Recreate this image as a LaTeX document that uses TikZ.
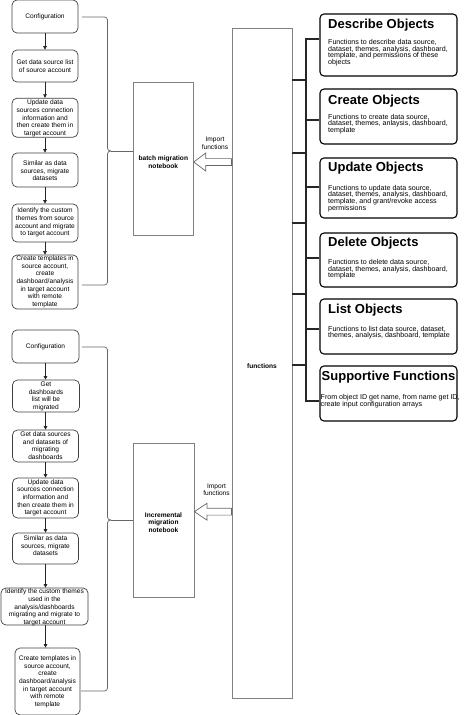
\documentclass[tikz,border=0pt]{standalone}
\usepackage{fontspec}
\setmainfont{Liberation Sans}
\usetikzlibrary{arrows.meta,calc}
\begin{document}
\begin{tikzpicture}[x=1pt,y=-1pt,
 lbox/.style={draw=black!75, line width=0.7pt, rounded corners=5pt, inner sep=0pt},
 ltext/.style={align=center, font=\fontsize{6.6}{7.6}\selectfont, inner sep=0pt},
 btext/.style={align=center, font=\fontsize{6.6}{7.4}\selectfont\bfseries, inner sep=0pt},
 rect/.style={draw=black!50, line width=0.9pt, inner sep=0pt},
 rbox/.style={draw=black, line width=1.1pt, rounded corners=4pt, inner sep=0pt, minimum width=137},
 rtitle/.style={font=\fontsize{13}{14}\selectfont\bfseries, inner sep=0pt, anchor=west},
 rbody/.style={font=\fontsize{7.1}{6.7}\selectfont, align=left, inner sep=0pt, anchor=west},
 flow/.style={-{Triangle[length=3.5pt,width=3.5pt]}, line width=0.6pt, black!85},
 tree/.style={line width=1.1pt, black!85},
 brace/.style={draw=black!60, line width=0.7pt},
 barrow/.style={draw=black!60, line width=0.7pt, fill=white, line join=miter},
]
\useasboundingbox (0,0) rectangle (474,715);

% ---------- top flow ----------
\node[lbox, minimum width=66, minimum height=33] (a1) at (45,16.5) {};
\node[ltext] (a1t) at (a1) {Configuration};
\node[lbox, minimum width=66, minimum height=32] (a2) at (45,66) {};
\node[ltext] (a2t) at (a2) {Get data source list\\of source account};
\node[lbox, minimum width=66, minimum height=39] (a3) at (45,117.7) {};
\node[ltext] (a3t) at (45,118.3) {Update data\\sources connection\\information and\\then create them in\\target account};
\node[lbox, minimum width=66, minimum height=34] (a4) at (45,170) {};
\node[ltext] (a4t) at (45,170.8) {Similar as data\\sources, migrate\\datasets};
\node[lbox, minimum width=66, minimum height=38] (a5) at (45,223) {};
\node[ltext] (a5t) at (45,222.5) {Identify the custom\\themes from source\\account and migrate\\to target account};
\node[lbox, minimum width=66, minimum height=54] (a6) at (45,282) {};
\node[ltext] (a6t) at (45,281.7) {Create templates in\\source account,\\create\\dashboard/analysis\\in target account\\with remote\\template};

\draw[flow] (a1.south) -- (a2.north);
\draw[flow] (a2.south) -- (a3.north);
\draw[flow] (a3.south) -- (a4.north);
\draw[flow] (a4.south) -- (a5.north);
\draw[flow] (a5.south) -- (a6.north);

% ---------- bottom flow ----------
\node[lbox, minimum width=67, minimum height=33] (c1) at (45.5,346.5) {};
\node[ltext] (c1t) at (c1) {Configuration};
\node[lbox, minimum width=67, minimum height=32] (c2) at (46,396) {};
\node[ltext] (c2t) at (46,396.5) {Get\\dashboards\\list will be\\migrated};
\node[lbox, minimum width=66, minimum height=32] (c3) at (45.5,446) {};
\node[ltext] (c3t) at (45.5,445.5) {Get data sources\\and datasets of\\migrating\\dashboards};
\node[lbox, minimum width=66, minimum height=40] (c4) at (45.5,498) {};
\node[ltext] (c4t) at (45.5,497.7) {Update data\\sources connection\\information and\\then create them in\\target account};
\node[lbox, minimum width=66, minimum height=31] (c5) at (45.5,548.5) {};
\node[ltext] (c5t) at (45.5,546) {Similar as data\\sources, migrate\\datasets};
\node[lbox, minimum width=87, minimum height=37] (c6) at (44.5,606.5) {};
\node[ltext] (c6t) at (44.5,607.3) {Identify the custom themes\\used in the\\analysis/dashboards\\migrating and migrate to\\target account};
\node[lbox, minimum width=65, minimum height=67] (c7) at (47.5,681.5) {};
\node[ltext] (c7t) at (47.5,681.8) {Create templates in\\source account,\\create\\dashboard/analysis\\in target account\\with remote\\template};

\draw[flow] (c1.south) -- (c2.north -| c1.south);
\draw[flow] (c2.south -| c1.south) -- (c3.north -| c1.south);
\draw[flow] (c3.south -| c1.south) -- (c4.north -| c1.south);
\draw[flow] (c4.south -| c1.south) -- (c5.north -| c1.south);
\draw[flow] (c5.south -| c1.south) -- (c6.north -| c1.south);
\draw[flow] (c6.south -| c1.south) -- (c7.north -| c1.south);

% ---------- notebooks and functions ----------
\node[rect, minimum width=60, minimum height=153] (batch) at (163.3,159.4) {};
\node[btext] (batcht) at (163.3,162.3) {batch migration\\notebook};
\node[rect, minimum width=61, minimum height=154] (inc) at (163.5,520) {};
\node[btext] (inct) at (163.5,522.5) {Incremental\\migration\\notebook};
\node[rect, minimum width=60, minimum height=670] (fn) at (262,363) {};
\node[btext] (fnt) at (262,366) {functions};

% ---------- braces ----------
\coordinate (tip1) at (111,151);
\draw[brace, rounded corners=3pt] (82,17) -- (107.5,17) -- (107.5,151) -- (tip1);
\draw[brace, rounded corners=3pt] (tip1) -- (107.5,151) -- (107.5,285) -- (82,285);
\draw[brace] (tip1) -- (tip1 -| batch.west);
\coordinate (tip2) at (111,520);
\draw[brace, rounded corners=3pt] (82,347) -- (107.5,347) -- (107.5,520) -- (tip2);
\draw[brace, rounded corners=3pt] (tip2) -- (107.5,520) -- (107.5,691) -- (81,691);
\draw[brace] (tip2) -- (tip2 -| inc.west);

% ---------- import arrows ----------
\coordinate (t1) at (batch.east |- 0,162);
\draw[barrow] (t1) -- ++(12,-9) -- ++(0,5.6) -- (fn.west |- 0,158.6) -- (fn.west |- 0,165.4) -- ($(t1)+(12,3.4)$) -- ++(0,5.6) -- cycle;
\node[ltext] (imp1) at (215,143) {Import\\functions};
\coordinate (t2) at (inc.east |- 0,511.7);
\draw[barrow] (t2) -- ++(12.5,-8.4) -- ++(0,5) -- (fn.west |- 0,508.3) -- (fn.west |- 0,515.1) -- ($(t2)+(12.5,3.4)$) -- ++(0,5) -- cycle;
\node[ltext] (imp2) at (216.5,489.7) {Import\\functions};

% ---------- right boxes ----------
\node[rbox, minimum height=62] (desc) at (388.5,45) {};
\node[rtitle] (desct) at (328,25) {Describe Objects};
\node[rbody] (descb) at (328,52.7) {Functions to describe data source,\\dataset, themes, analysis, dashboard,\\template, and permissions of these\\objects};

\node[rbox, minimum height=55] (crt) at (388.5,116.5) {};
\node[rtitle] (crtt) at (328,100.7) {Create Objects};
\node[rbody] (crtb) at (328,124) {Functions to create data source,\\dataset, themes, anlaysis, dashboard,\\template};

\node[rbox, minimum height=60] (upd) at (388.5,188) {};
\node[rtitle] (updt) at (328,168.3) {Update Objects};
\node[rbody] (updb) at (328,198.3) {Functions to update data source,\\dataset, themes, analysis, dashboard,\\template, and grant/revoke access\\permissions};

\node[rbox, minimum height=54] (del) at (388.5,260) {};
\node[rtitle] (delt) at (328,243.3) {Delete Objects};
\node[rbody] (delb) at (328,269.3) {Functions to delete data source,\\dataset, themes, analysis, dashboard,\\template};

\node[rbox, minimum height=55] (lst) at (388.5,326.5) {};
\node[rtitle] (lstt) at (328,310) {List Objects};
\node[rbody] (lstb) at (328,332.7) {Functions to list data source, dataset,\\themes, analysis, dashboard, template};

\node[rbox, minimum height=55] (sup) at (388.5,393.5) {};
\node[rtitle, anchor=center] (supt) at (388.5,376.7) {Supportive Functions};
\node[rbody] (supb) at (320.5,401) {From object ID get name, from name get ID,\\create input configuration arrays};

% ---------- tree connectors ----------
\coordinate (bus) at (306,0);
\draw[tree] (fn.east |- 0,365) -- (bus |- 0,365) -- (bus |- 0,39) -- (desc.west |- 0,39);
\draw[tree] (fn.east |- 0,80) -- (bus |- 0,80) -- (bus |- 0,120) -- (crt.west |- 0,120);
\draw[tree] (fn.east |- 0,153) -- (bus |- 0,153) -- (bus |- 0,187) -- (upd.west |- 0,187);
\draw[tree] (fn.east |- 0,223) -- (bus |- 0,223) -- (bus |- 0,258) -- (del.west |- 0,258);
\draw[tree] (fn.east |- 0,294) -- (bus |- 0,294) -- (bus |- 0,329) -- (lst.west |- 0,329);
\draw[tree] (fn.east |- 0,365) -- (bus |- 0,365) -- (bus |- 0,401) -- (sup.west |- 0,401);
\end{tikzpicture}
\end{document}
